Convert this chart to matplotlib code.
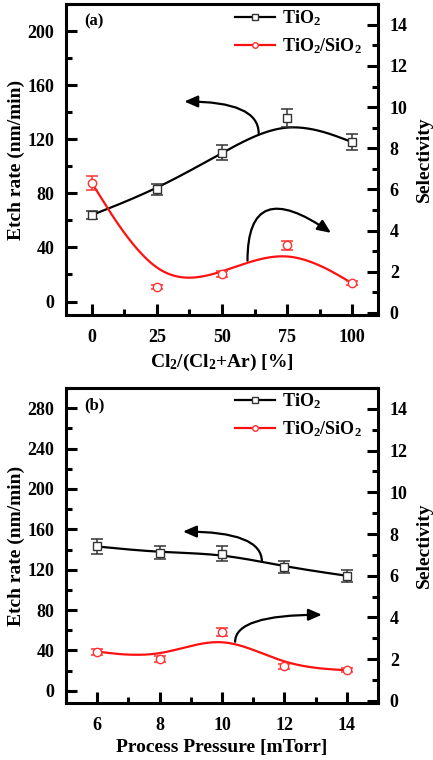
import matplotlib
matplotlib.use("Agg")
import matplotlib.pyplot as plt
import numpy as np
from matplotlib.ticker import MultipleLocator

plt.rcParams["font.family"] = ["Liberation Serif", "DejaVu Serif"]
plt.rcParams["font.weight"] = "bold"
plt.rcParams["mathtext.fontset"] = "custom"
plt.rcParams["mathtext.rm"] = "Liberation Serif:bold"
plt.rcParams["mathtext.it"] = "Liberation Serif:bold"
plt.rcParams["mathtext.bf"] = "Liberation Serif:bold"

# panel (a): Cl2 fraction
cl2 = [0, 25, 50, 75, 100]
rate_a = [64, 83, 110, 136, 118]
rate_a_err = [2.7, 4, 5.5, 6.6, 6]
sel_a = [6.3, 1.26, 1.9, 3.28, 1.45]
sel_a_err = [0.34, 0.1, 0.15, 0.2, 0.1]

# panel (b): process pressure
press = [6, 8, 10, 12, 14]
rate_b = [143, 137, 136, 123, 114]
rate_b_err = [7, 6, 7, 6, 6]
sel_b = [2.36, 2.02, 3.3, 1.65, 1.47]
sel_b_err = [0.15, 0.15, 0.2, 0.12, 0.1]


def bspline(xs, ys, n=60):
    # uniform cubic B-spline, data points as control points, ends tripled
    P = np.column_stack([xs, ys]).astype(float)
    Q = np.vstack([P[:1], P[:1], P, P[-1:], P[-1:]])
    t = np.linspace(0, 1, n)[:, None]
    b0 = (1 - t) ** 3 / 6
    b1 = (3 * t ** 3 - 6 * t ** 2 + 4) / 6
    b2 = (-3 * t ** 3 + 3 * t ** 2 + 3 * t + 1) / 6
    b3 = t ** 3 / 6
    segs = [b0 * Q[i] + b1 * Q[i + 1] + b2 * Q[i + 2] + b3 * Q[i + 3]
            for i in range(len(Q) - 3)]
    out = np.vstack(segs)
    return out[:, 0], out[:, 1]


def style(ax, twin):
    for s in ax.spines.values():
        s.set_linewidth(2.2)
    for a in (ax, twin):
        a.tick_params(which="major", direction="in", length=8, width=2.2,
                      labelsize=13, pad=8.5)
        a.tick_params(which="minor", direction="in", length=4, width=2.2)
    ax.tick_params(axis="x", pad=10)


def panel(ax, x, rate, rate_err, sel, sel_err, arrows, tag):
    twin = ax.twinx()
    bx, by = bspline(x, rate)
    ax.plot(bx, by, color="black", lw=1.6)
    ax.errorbar(x, rate, yerr=rate_err, fmt="s", ms=6, mfc="white", mec="#333333",
                ecolor="#333333", elinewidth=1.1, capsize=4, capthick=1.1, zorder=3)
    rx, ry = bspline(x, sel)
    twin.plot(rx, ry, color="#ff1010", lw=1.6)
    twin.errorbar(x, sel, yerr=sel_err, fmt="o", ms=6, mfc="white", mec="#ff3030",
                  ecolor="#ff3030", elinewidth=1.1, capsize=4, capthick=1.1, zorder=3)
    for head, tail, angle_b in arrows:
        ax.annotate("", xy=head, xytext=tail,
                    arrowprops=dict(arrowstyle="-|>,head_length=0.8,head_width=0.35",
                                    connectionstyle=f"angle3,angleA=90,angleB={angle_b}",
                                    color="black", lw=1.6, shrinkA=0, shrinkB=0))
    ax.text(0.06, 0.97, tag, transform=ax.transAxes, fontsize=12, fontweight="bold",
            va="top")
    h1, = ax.plot([], [], color="black", lw=1.6, marker="s", ms=4, mfc="white", mec="#333333")
    h2, = ax.plot([], [], color="#ff1010", lw=1.6, marker="o", ms=4, mfc="white", mec="#ff3030")
    ax.legend([h1, h2], ["TiO$_2$", "TiO$_2$/SiO$_2$"], loc="upper right",
              bbox_to_anchor=(1.0, 1.04), frameon=False, fontsize=13,
              handlelength=2.2, handletextpad=0.4, labelspacing=0.45)
    ax.set_ylabel("Etch rate (nm/min)", fontsize=14, fontweight="bold", labelpad=2)
    twin.set_ylabel("Selectivity", fontsize=14, fontweight="bold", labelpad=6)
    twin.set_ylim(-0.1, 15)
    twin.yaxis.set_major_locator(MultipleLocator(2))
    twin.yaxis.set_minor_locator(MultipleLocator(1))
    style(ax, twin)
    return twin


fig = plt.figure(figsize=(4.33, 7.6), dpi=100)
ax_a = fig.add_axes([0.1524, 0.5855, 0.7206, 0.409])
ax_b = fig.add_axes([0.1524, 0.075, 0.7206, 0.4145])

panel(ax_a, cl2, rate_a, rate_a_err, sel_a, sel_a_err,
      [((35.5, 148), (64.1, 124.5), 0), ((91.9, 50.8), (59.8, 30.2), -35)], "(a)")
ax_a.set_xlim(-10, 110)
ax_a.set_ylim(-10, 220)
ax_a.xaxis.set_major_locator(MultipleLocator(25))
ax_a.xaxis.set_minor_locator(MultipleLocator(12.5))
ax_a.yaxis.set_major_locator(MultipleLocator(40))
ax_a.yaxis.set_minor_locator(MultipleLocator(20))
ax_a.set_xlabel("Cl$_2$/(Cl$_2$+Ar) [%]", fontsize=14, fontweight="bold")

panel(ax_b, press, rate_b, rate_b_err, sel_b, sel_b_err,
      [((8.75, 157.8), (11.28, 128), 0), ((13.2, 75.4), (10.42, 48.6), 0)], "(b)")
ax_b.set_xlim(5, 15)
ax_b.set_ylim(-12, 300)
ax_b.xaxis.set_major_locator(MultipleLocator(2))
ax_b.xaxis.set_minor_locator(MultipleLocator(1))
ax_b.yaxis.set_major_locator(MultipleLocator(40))
ax_b.yaxis.set_minor_locator(MultipleLocator(20))
ax_b.set_xlabel("Process Pressure [mTorr]", fontsize=14, fontweight="bold")

fig.savefig("out.png", dpi=100)
